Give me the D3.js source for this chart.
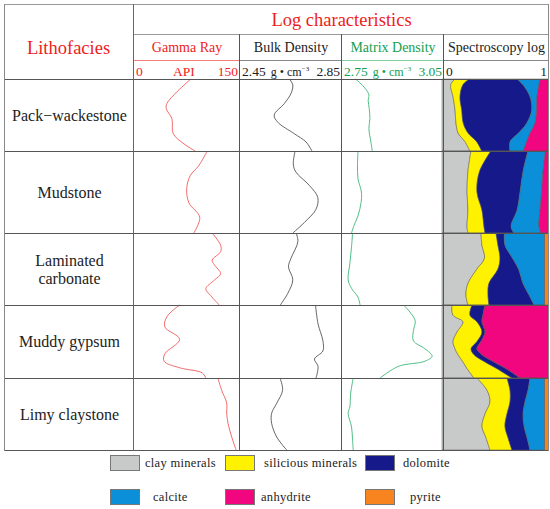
<!DOCTYPE html>
<html><head><meta charset="utf-8">
<script src="https://cdn.jsdelivr.net/npm/d3@7"></script>
<style>
body{margin:0;background:#fff}
svg{display:block}
text{font-family:"Liberation Serif","Times New Roman",serif}
</style>
</head><body>
<svg id="c" width="550" height="509"></svg>
<script>
// ---------------- DATA ----------------
const facies = ["Pack\u2212wackestone", "Mudstone", "Laminated carbonate", "Muddy gypsum", "Limy claystone"];
const faciesLabelLines = [["Pack\u2212wackestone"], ["Mudstone"], ["Laminated", "carbonate"], ["Muddy gypsum"], ["Limy claystone"]];
const faciesThickness = [72, 82, 72, 73, 72]; // relative thickness of each facies interval

const gammaRange = [0, 150];       // API
const bulkRange = [2.45, 2.85];    // g/cm3
const matrixRange = [2.75, 3.05];  // g/cm3
const specRange = [0, 1];          // fraction

// [relative depth within facies, value]
const gammaRay = [
  [[0,82],[0.17,63],[0.34,48],[0.41,47],[0.55,55],[0.76,57],[0.9,72],[1,88]],
  [[0,105],[0.18,93],[0.30,81],[0.46,76],[0.63,79],[0.81,94.5],[1,86]],
  [[0,112],[0.17,124],[0.26,124],[0.375,112],[0.44,115],[0.565,124],[0.655,115],[0.775,103],[0.87,110],[1,122]],
  [[0,66],[0.16,48],[0.30,45],[0.47,66],[0.67,45],[0.77,44],[0.86,66],[0.93,98],[1,103]],
  [[0,120],[0.17,125.5],[0.35,132.6],[0.49,132.6],[0.63,134.5],[0.82,139.7],[1,146]]
];
const bulkDensity = [
  [[0,2.648],[0.083,2.661],[0.2,2.654],[0.34,2.628],[0.5,2.588],[0.6,2.602],[0.76,2.667],[0.875,2.713],[1,2.736]],
  [[0,2.670],[0.16,2.663],[0.256,2.673],[0.42,2.726],[0.566,2.759],[0.71,2.752],[0.87,2.707],[1,2.661]],
  [[0,2.674],[0.12,2.681],[0.35,2.654],[0.47,2.644],[0.65,2.661],[0.84,2.641],[1,2.612]],
  [[0,2.750],[0.26,2.760],[0.49,2.779],[0.63,2.779],[0.74,2.746],[0.84,2.760],[1,2.752]],
  [[0,2.611],[0.17,2.621],[0.35,2.598],[0.49,2.578],[0.63,2.578],[0.82,2.598],[1,2.637]]
];
const matrixDensity = [
  [[0,2.793],[0.13,2.821],[0.22,2.832],[0.30,2.830],[0.41,2.833],[0.55,2.835],[0.69,2.832],[0.875,2.838],[1,2.842]],
  [[0,2.800],[0.18,2.7985],[0.34,2.800],[0.5,2.810],[0.63,2.809],[0.79,2.800],[0.91,2.788],[1,2.781]],
  [[0,2.784],[0.19,2.781],[0.425,2.776],[0.65,2.771],[0.77,2.781],[0.89,2.800],[1,2.806]],
  [[0,2.934],[0.21,2.968],[0.35,2.963],[0.49,2.963],[0.60,2.997],[0.70,3.018],[0.77,2.997],[0.84,2.919],[1,2.865]],
  [[0,2.786],[0.21,2.7785],[0.40,2.776],[0.49,2.771],[0.68,2.781],[0.86,2.784],[1,2.786]]
];

const minerals = ["clay minerals", "silicious minerals", "dolomite", "calcite", "anhydrite", "pyrite"];
const mineralColors = ["#c8cac9", "#fff200", "#15198a", "#0b8fd8", "#f2067f", "#f7841e"];
// [relative depth, clay, silicious, dolomite, calcite, anhydrite, pyrite]
const spectroscopy = [
  [[0,.123,.135,.450,.217,.075,0],[.08,.082,.116,.566,.151,.085,0],[.245,.104,.066,.660,.066,.104,0],
   [.43,.123,.063,.660,.047,.107,0],[.615,.132,.069,.598,.078,.123,0],[.755,.154,.094,.472,.110,.170,0],
   [.87,.217,.110,.315,.157,.201,0],[1,.264,.111,.267,.125,.233,0]],
  [[0,.274,.188,.349,.165,.024,0],[.25,.245,.109,.410,.189,.047,0],[.5,.236,.094,.406,.204,.060,0],
   [.72,.245,.132,.331,.217,.075,0],[.92,.236,.160,.255,.264,.085,0],[1,.245,.161,.273,.255,.066,0]],
  [[0,.368,.141,.080,.381,0,.030],[.17,.377,.151,.066,.376,0,.030],[.35,.401,.146,.118,.305,0,.030],
   [.5,.330,.198,.194,.248,0,.030],[.7,.245,.198,.321,.206,0,.030],[.86,.226,.208,.387,.149,0,.030],
   [1,.245,.198,.425,.102,0,.030]],
  [[0,.094,.189,.123,0,.594,0],[.14,.104,.160,.123,0,.613,0],[.23,.198,.132,.047,0,.623,0],
   [.37,.142,.235,.029,0,.594,0],[.5,.104,.226,.038,0,.632,0],[.6,.123,.151,.056,0,.670,0],
   [.68,.151,.151,.075,0,.623,0],[.78,.198,.208,.085,0,.509,0],[.87,.236,.280,.088,0,.396,0],
   [1,.302,.358,.076,0,.264,0]],
  [[0,.330,.283,.217,.140,0,.030],[.17,.425,.217,.169,.159,0,.030],[.33,.453,.189,.141,.187,0,.030],
   [.5,.406,.207,.151,.206,0,.030],[.67,.377,.217,.180,.196,0,.030],[.83,.415,.208,.179,.168,0,.030],
   [1,.453,.207,.170,.140,0,.030]]
];

const trackTitles = ["Gamma Ray", "Bulk Density", "Matrix Density", "Spectroscopy log"];
const trackColors = ["#ee2222", "#222222", "#15a050", "#222222"];
const trackUnderline = ["#f08080", "#888888", "#80d0a0", "#888888"];

// ---------------- LAYOUT ----------------
const svg = d3.select("#c");
const X0 = 4, XL = 133, XR = 548;
const trackEdges = [133, 239, 341, 443, 548];
const Y0 = 4, Y1 = 34, Y2 = 60, Y3 = 79, YB = 450;
const grid = "#666";

svg.append("rect").attr("width", 550).attr("height", 509).attr("fill", "#fff");

const gammaX = d3.scaleLinear().domain(gammaRange).range([trackEdges[0], trackEdges[1]]);
const bulkX = d3.scaleLinear().domain(bulkRange).range([trackEdges[1], trackEdges[2]]);
const matrixX = d3.scaleLinear().domain(matrixRange).range([trackEdges[2], trackEdges[3]]);
const specX = d3.scaleLinear().domain(specRange).range([trackEdges[3] - 1, trackEdges[4]]);

const cum = [0]; faciesThickness.forEach((t, i) => cum.push(cum[i] + t));
const depthY = d3.scaleLinear().domain([0, cum[cum.length - 1]]).range([Y3, YB]);

// ---------------- SPECTROSCOPY ----------------
const keys = d3.range(1, 7);
const gSpec = svg.append("g");
spectroscopy.forEach((rows, i) => {
  const rowY = d3.scaleLinear().domain([0, 1]).range([depthY(cum[i]), depthY(cum[i + 1])]);
  const stack = d3.stack().keys(keys).value((d, k) => d[k]);
  const series = stack(rows);
  const area = d3.area()
    .y(d => rowY(d.data[0]))
    .x0(d => specX(d[0]))
    .x1(d => specX(d[1]))
    .curve(d3.curveCatmullRom.alpha(0.5));
  series.forEach((s, j) => {
    gSpec.append("path").attr("d", area(s))
      .attr("fill", mineralColors[j])
      .attr("stroke", j < 5 ? "#555" : "none").attr("stroke-width", 0.5);
  });
});

// ---------------- CURVES ----------------
function drawCurves(data, xs, color) {
  data.forEach((pts, i) => {
    const rowY = d3.scaleLinear().domain([0, 1]).range([depthY(cum[i]), depthY(cum[i + 1])]);
    const line = d3.line().x(d => xs(d[1])).y(d => rowY(d[0])).curve(d3.curveCatmullRom.alpha(0.5));
    svg.append("path").attr("d", line(pts)).attr("fill", "none")
      .attr("stroke", color).attr("stroke-width", 0.9);
  });
}
drawCurves(gammaRay, gammaX, "#f05a5a");
drawCurves(bulkDensity, bulkX, "#555");
drawCurves(matrixDensity, matrixX, "#3cb878");

// ---------------- GRID ----------------
function hline(y, x1, x2, c, w) {
  svg.append("line").attr("x1", x1).attr("x2", x2).attr("y1", y + .5).attr("y2", y + .5)
    .attr("stroke", c || grid).attr("stroke-width", w || 1);
}
function vline(x, y1, y2, c) {
  svg.append("line").attr("x1", x + .5).attr("x2", x + .5).attr("y1", y1).attr("y2", y2)
    .attr("stroke", c || grid).attr("stroke-width", 1);
}
hline(Y0, X0, XR + 1, "#999");
hline(Y1, XL, XR + 1, "#999");
trackEdges.slice(0, 4).forEach((x, i) => hline(Y2, x + 1, trackEdges[i + 1], trackUnderline[i]));
cum.forEach(c => hline(Math.round(depthY(c)), X0, XR + 1, "#555"));
vline(X0, Y0, YB + 1, "#888");
vline(XL, Y0, YB + 1, "#666");
trackEdges.slice(1, 4).forEach(x => vline(x, Y1, YB + 1, "#555"));
vline(XR, Y0, YB + 1, "#888");

// ---------------- HEADER TEXT ----------------
svg.append("text").attr("x", (X0 + XL) / 2).attr("y", 54).attr("text-anchor", "middle")
  .attr("fill", "#ee1c1c").attr("font-size", 18.5).text("Lithofacies");
svg.append("text").attr("x", (XL + XR) / 2 + 1).attr("y", 26).attr("text-anchor", "middle")
  .attr("fill", "#ee1c1c").attr("font-size", 18.5).text("Log characteristics");
trackTitles.forEach((t, i) => {
  svg.append("text").attr("x", (trackEdges[i] + trackEdges[i + 1]) / 2 + 1).attr("y", 52)
    .attr("text-anchor", "middle").attr("fill", trackColors[i]).attr("font-size", 14).text(t);
});

const fmt2 = d3.format(".2f");
function unitRow(i, lo, hi, mid, sup) {
  const c = trackColors[i], x1 = trackEdges[i], x2 = trackEdges[i + 1];
  svg.append("text").attr("x", x1 + 3).attr("y", 76).attr("fill", c).attr("font-size", 13.5).text(lo);
  svg.append("text").attr("x", x2 - 1).attr("y", 76).attr("text-anchor", "end").attr("fill", c)
    .attr("font-size", 13.5).text(hi);
  if (mid) {
    const t = svg.append("text").attr("x", (x1 + x2) / 2 + (sup ? 0 : -2)).attr("y", 76)
      .attr("text-anchor", "middle").attr("fill", c).attr("font-size", sup ? 12 : 13.5).text(mid);
    if (sup) t.append("tspan").attr("dy", -5).attr("font-size", 7).text(sup);
  }
}
unitRow(0, String(gammaRange[0]), String(gammaRange[1]), "API");
unitRow(1, fmt2(bulkRange[0]), fmt2(bulkRange[1]), "g \u2022 cm", "\u22123");
unitRow(2, fmt2(matrixRange[0]), fmt2(matrixRange[1]), "g \u2022 cm", "\u22123");
unitRow(3, String(specRange[0]), String(specRange[1]));

// ---------------- ROW LABELS ----------------
faciesLabelLines.forEach((lines, i) => {
  const cy = (depthY(cum[i]) + depthY(cum[i + 1])) / 2;
  const n = lines.length;
  lines.forEach((l, k) => {
    svg.append("text").attr("x", (X0 + XL) / 2 + 1).attr("y", cy + 5.5 + (k - (n - 1) / 2) * 18)
      .attr("text-anchor", "middle").attr("fill", "#222").attr("font-size", 16)
      .text(l);
  });
});

// ---------------- LEGEND ----------------
const legBoxX = [110, 225, 365];
const legTextX = [145, 264, 403, 153, 261, 410];
const legRowY = [455, 489];
minerals.forEach((m, i) => {
  const col = i % 3, row = Math.floor(i / 3);
  svg.append("rect").attr("x", legBoxX[col] + .5).attr("y", legRowY[row] + .5)
    .attr("width", 29).attr("height", 15).attr("fill", mineralColors[i])
    .attr("stroke", "#777").attr("stroke-width", 1);
  svg.append("text").attr("x", legTextX[i]).attr("y", legRowY[row] + 11.5)
    .attr("fill", "#222").attr("font-size", 12.5).attr("letter-spacing", 0.3).text(m);
});
</script>
</body></html>
